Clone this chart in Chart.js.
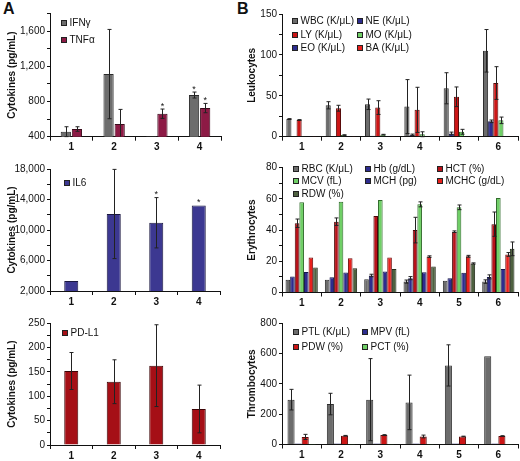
<!DOCTYPE html>
<html>
<head>
  <title>Cytokines and blood counts</title>
  <script src="https://cdn.jsdelivr.net/npm/chart.js"></script>
  <style>
    body { margin: 0; background: #fff; }
    #fig { position: relative; width: 520px; height: 461px; font-family: "Liberation Sans", Arial, sans-serif; }
    #fig canvas { position: absolute; }
    .panel { position: absolute; font-weight: bold; font-size: 16px; color: #111; }
  </style>
</head>
<body>
<div id="fig">
  <div class="panel" style="left:3px;top:0px">A</div>
  <div class="panel" style="left:237px;top:0px">B</div>
  <canvas id="ifnChart"></canvas>
  <canvas id="il6Chart"></canvas>
  <canvas id="pdl1Chart"></canvas>
  <canvas id="leukoChart"></canvas>
  <canvas id="erythroChart"></canvas>
  <canvas id="thromboChart"></canvas>
</div>

<script>
  // categories
  const cytoGroups = ['1', '2', '3', '4'];
  const bloodGroups = ['1', '2', '3', '4', '5', '6'];

  // panel A - cytokines (pg/mL), mean and error
  const ifnValues = [457, 1111, 408, 873];
  const ifnErrors = [56, 507, 0, 34];
  const ifnStars = [0, 0, 0, 1];
  const tnfValues = [487, 544, 661, 725];
  const tnfErrors = [26, 166, 53, 53];
  const tnfStars = [0, 0, 1, 1];

  const il6Values = [3300, 12100, 10950, 13200];
  const il6Errors = [0, 5850, 3300, 0];
  const il6Stars = [0, 0, 1, 1];

  const pdl1Values = [152, 130, 163, 74];
  const pdl1Errors = [38, 45, 84, 49];

  // panel B - leukocytes
  const wbcValues = [21.6, 38.4, 39.6, 36.8, 59.2, 105];
  const wbcErrors = [0.5, 4.4, 6.4, 33, 19, 26];
  const neValues = [0.6, 0.8, 1.2, 2.4, 4, 18.8];
  const neErrors = [0, 0, 0, 0.8, 1.6, 1.6];
  const lyValues = [20.4, 34.8, 35.6, 32.8, 48.8, 65.6];
  const lyErrors = [0.5, 3.6, 8.4, 27.6, 12, 20];
  const moValues = [0.3, 2, 2.5, 3, 6, 20];
  const moErrors = [0, 0.4, 0.4, 3, 3, 4];
  const eoValues = [0.2, 0.3, 0.3, 0.5, 0.5, 0.8];
  const baValues = [0.1, 0.1, 0.1, 0.2, 0.2, 0.3];

  // panel B - erythrocytes
  const rbcValues = [8.1, 8.1, 8.5, 7.0, 7.5, 7.0];
  const rbcErrors = [0, 0, 0, 1, 0, 1.1];
  const hbValues = [10.2, 9.8, 10.9, 9.2, 9.2, 10.0];
  const hbErrors = [0, 0, 0.8, 1, 0, 1.3];
  const hctValues = [44.4, 45.4, 49.0, 40.0, 39.0, 43.8];
  const hctErrors = [2.7, 2.4, 0, 8.2, 0.5, 7.8];
  const mcvValues = [57.8, 58.2, 59.3, 56.5, 54.6, 60.6];
  const mcvErrors = [0, 0, 0, 1.6, 1.5, 0];
  const mchValues = [13.2, 12.8, 13.4, 13.0, 12.6, 15.0];
  const mchcValues = [22.4, 22.0, 22.4, 23.0, 23.2, 24.4];
  const mchcErrors = [0, 0, 0, 0.5, 0.6, 1.2];
  const rdwValues = [16.0, 15.6, 15.1, 16.6, 18.6, 28.0];
  const rdwErrors = [0, 0, 0, 0, 0.4, 4.4];

  // panel B - thrombocytes
  const ptlValues = [296, 267, 296, 278, 522, 582];
  const ptlErrors = [68, 71, 271, 180, 136, 0];
  const mpvValues = [6, 6, 6, 6, 6, 6];
  const pdwValues = [50, 58, 62, 53, 53, 56];
  const pdwErrors = [17, 2, 3, 9, 2, 2];
  const pctValues = [0.4, 0.4, 0.4, 0.4, 0.4, 0.4];

  const FONT = '"Liberation Sans", Arial, sans-serif';
  Chart.defaults.font.family = FONT;
  Chart.defaults.color = '#111';

  // error bars drawn from dataset.errors
  const errorBars = {
    id: 'errorBars',
    afterDatasetsDraw(chart) {
      const { ctx, chartArea: area, scales: { y } } = chart;
      ctx.save();
      ctx.lineWidth = 1;
      ctx.strokeStyle = '#222';
      chart.data.datasets.forEach((ds, di) => {
        if (!ds.errors) return;
        chart.getDatasetMeta(di).data.forEach((bar, i) => {
          const err = ds.errors[i];
          if (!err) return;
          const v = ds.data[i];
          const x = Math.round(bar.x) + 0.5;
          const yTop = y.getPixelForValue(v + err);
          let yBot = y.getPixelForValue(v - err);
          const clipped = yBot > area.bottom;
          if (clipped) yBot = area.bottom;
          const half = 2;
          ctx.beginPath();
          ctx.moveTo(x, yTop); ctx.lineTo(x, yBot);
          ctx.moveTo(x - half, yTop); ctx.lineTo(x + half, yTop);
          if (!clipped) { ctx.moveTo(x - half, yBot); ctx.lineTo(x + half, yBot); }
          ctx.stroke();
        });
      });
      ctx.restore();
    }
  };

  // significance asterisks from dataset.stars
  const starMarks = {
    id: 'starMarks',
    afterDatasetsDraw(chart) {
      const { ctx, scales: { y } } = chart;
      ctx.save();
      ctx.font = '9px ' + FONT;
      ctx.textAlign = 'center';
      ctx.fillStyle = '#111';
      chart.data.datasets.forEach((ds, di) => {
        if (!ds.stars) return;
        chart.getDatasetMeta(di).data.forEach((bar, i) => {
          if (!ds.stars[i]) return;
          const e = (ds.errors && ds.errors[i]) || 0;
          const top = y.getPixelForValue(ds.data[i] + e);
          ctx.fillText('*', bar.x, top - 0.5);
        });
      });
      ctx.restore();
    }
  };

  // legend laid out in a grid inside the plot area
  const gridLegend = {
    id: 'gridLegend',
    afterDraw(chart, args, opts) {
      if (!opts || opts.cols === undefined) return;
      const { ctx, chartArea } = chart;
      ctx.save();
      ctx.font = (opts.size || 10) + 'px ' + FONT;
      ctx.textBaseline = 'middle';
      chart.data.datasets.forEach((ds, i) => {
        const col = i % opts.cols, row = Math.floor(i / opts.cols);
        const x = Math.round(chartArea.left + opts.x + col * opts.colWidth);
        const y = Math.round(chartArea.top + opts.y + row * opts.rowHeight);
        ctx.fillStyle = ds.backgroundColor;
        ctx.fillRect(x, y - 3, 6, 6);
        ctx.strokeStyle = '#222';
        ctx.lineWidth = 1;
        ctx.strokeRect(x + 0.5, y - 2.5, 5, 5);
        ctx.fillStyle = '#111';
        ctx.fillText(ds.label, x + 8.5, y + 0.5);
      });
      ctx.restore();
    }
  };

  Chart.register(errorBars, starMarks, gridLegend);

  function bars(label, data, errors, fill, border, stars) {
    return { label, data, errors, stars, backgroundColor: fill, borderColor: border, borderWidth: 1 };
  }

  function yAxis(min, max, minorStep, labelStep, title) {
    return {
      min, max,
      ticks: {
        stepSize: minorStep, autoSkip: false, padding: 2, font: { size: 10 },
        callback: v => ((v - min) % labelStep === 0 ? v.toLocaleString('en-US') : '')
      },
      grid: { drawOnChartArea: false, tickLength: 3, color: '#111' },
      border: { color: '#111', width: 1 },
      title: { display: true, text: title, font: { size: 10, weight: 'bold' }, padding: 0 }
    };
  }

  function xAxis() {
    return {
      ticks: { font: { size: 10, weight: 'bold' }, padding: 1, maxRotation: 0, autoSkip: false },
      grid: { drawOnChartArea: false, tickLength: 4, color: '#111', offset: true },
      border: { color: '#111', width: 1 },
      afterFit: s => { s.height = 20; }
    };
  }

  // plot rectangle -> canvas placement
  function makeChart(id, plot, leftEdge, labels, datasets, y, barOpts, legend) {
    const c = document.getElementById(id);
    const top = plot.top < 20 ? 0 : Math.round(plot.top - 12);
    const width = Math.round(plot.right + 2 - leftEdge);
    const height = Math.round(plot.bottom + 20 - top);
    c.width = width; c.height = height;
    c.style.left = leftEdge + 'px'; c.style.top = top + 'px';
    c.style.width = width + 'px'; c.style.height = height + 'px';
    y.afterFit = s => { s.width = plot.left - leftEdge - 6; };
    return new Chart(c, {
      type: 'bar',
      data: { labels, datasets },
      options: {
        responsive: false,
        animation: false,
        categoryPercentage: barOpts[0],
        barPercentage: barOpts[1],
        layout: { padding: { left: 6, top: plot.top - top, right: width - (plot.right - leftEdge), bottom: height - 20 - (plot.bottom - top) } },
        scales: { x: xAxis(), y },
        plugins: { legend: { display: false }, tooltip: { enabled: false }, gridLegend: legend }
      }
    });
  }

  const GRAY = ['#6c6c6c', '#2e2e2e'];
  const BLUE = ['#2d2c8e', '#15154a'];
  const RED = ['#cc1616', '#5a0a0a'];
  const BRIGHT_RED = ['#e8201c', '#6a0a0a'];
  const GREEN = ['#6fcf66', '#2f6a2a'];
  const OLIVE = ['#4e6140', '#222c1a'];

  makeChart('ifnChart', { left: 50, right: 221, top: 13.4, bottom: 136.7 }, 0, cytoGroups, [
    bars('IFNγ', ifnValues, ifnErrors, '#6d6d6d', '#2a2a2a', ifnStars),
    bars('TNFα', tnfValues, tnfErrors, '#8d1a45', '#3a0a1a', tnfStars)
  ], yAxis(400, 1800, 200, 400, 'Cytokines (pg/mL)'), [0.52, 0.92],
  { cols: 1, x: 11, y: 9.8, colWidth: 0, rowHeight: 16.5 });

  makeChart('il6Chart', { left: 50, right: 220, top: 169, bottom: 291 }, 0, cytoGroups, [
    bars('IL6', il6Values, il6Errors, '#3c3891', '#1a1840', il6Stars)
  ], yAxis(2000, 18000, 2000, 4000, 'Cytokines (pg/mL)'), [0.33, 1],
  { cols: 1, x: 14, y: 14.4, colWidth: 0, rowHeight: 16 });

  makeChart('pdl1Chart', { left: 50, right: 220, top: 323.3, bottom: 445 }, 0, cytoGroups, [
    bars('PD-L1', pdl1Values, pdl1Errors, '#a50f16', '#3c0406')
  ], yAxis(0, 250, 25, 50, 'Cytokines (pg/mL)'), [0.33, 1],
  { cols: 1, x: 11.7, y: 9.7, colWidth: 0, rowHeight: 16 });

  makeChart('leukoChart', { left: 282, right: 518, top: 14, bottom: 136.7 }, 240, bloodGroups, [
    bars('WBC (K/μL)', wbcValues, wbcErrors, ...GRAY),
    bars('NE (K/μL)', neValues, neErrors, ...BLUE),
    bars('LY (K/μL)', lyValues, lyErrors, ...RED),
    bars('MO (K/μL)', moValues, moErrors, ...GREEN),
    bars('EO (K/μL)', eoValues, null, ...BLUE),
    bars('BA (K/μL)', baValues, null, ...BRIGHT_RED)
  ], yAxis(0, 150, 25, 50, 'Leukocytes'), [0.78, 1],
  { cols: 2, x: 9.7, y: 7, colWidth: 65.6, rowHeight: 13.6 });

  makeChart('erythroChart', { left: 282, right: 518, top: 167.7, bottom: 292.5 }, 240, bloodGroups, [
    bars('RBC (K/μL)', rbcValues, rbcErrors, ...GRAY),
    bars('Hb (g/dL)', hbValues, hbErrors, ...BLUE),
    bars('HCT (%)', hctValues, hctErrors, '#b8121a', '#4a0606'),
    bars('MCV (fL)', mcvValues, mcvErrors, ...GREEN),
    bars('MCH (pg)', mchValues, null, ...BLUE),
    bars('MCHC (g/dL)', mchcValues, mchcErrors, ...BRIGHT_RED),
    bars('RDW (%)', rdwValues, rdwErrors, ...OLIVE)
  ], yAxis(0, 80, 10, 20, 'Erythrocytes'), [0.82, 1],
  { cols: 3, x: 10.7, y: 1, colWidth: 72.3, rowHeight: 12.5 });

  makeChart('thromboChart', { left: 282, right: 518, top: 323.3, bottom: 444.5 }, 240, bloodGroups, [
    bars('PTL (K/μL)', ptlValues, ptlErrors, ...GRAY),
    bars('MPV (fL)', mpvValues, null, ...BLUE),
    bars('PDW (%)', pdwValues, pdwErrors, ...RED),
    bars('PCT (%)', pctValues, null, ...GREEN)
  ], yAxis(0, 800, 200, 200, 'Thrombocytes'), [0.72, 1],
  { cols: 2, x: 10.7, y: 8.7, colWidth: 69, rowHeight: 14.5 });
</script>
</body>
</html>
